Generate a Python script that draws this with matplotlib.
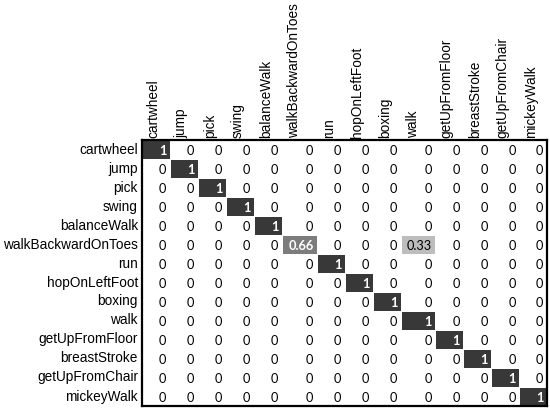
import numpy as np
import matplotlib
matplotlib.use("Agg")
import matplotlib.pyplot as plt
from matplotlib.colors import LinearSegmentedColormap

classes = ["cartwheel", "jump", "pick", "swing", "balanceWalk", "walkBackwardOnToes",
           "run", "hopOnLeftFoot", "boxing", "walk", "getUpFromFloor", "breastStroke",
           "getUpFromChair", "mickeyWalk"]

confusion = [
    [1, 0, 0, 0, 0, 0, 0, 0, 0, 0, 0, 0, 0, 0],
    [0, 1, 0, 0, 0, 0, 0, 0, 0, 0, 0, 0, 0, 0],
    [0, 0, 1, 0, 0, 0, 0, 0, 0, 0, 0, 0, 0, 0],
    [0, 0, 0, 1, 0, 0, 0, 0, 0, 0, 0, 0, 0, 0],
    [0, 0, 0, 0, 1, 0, 0, 0, 0, 0, 0, 0, 0, 0],
    [0, 0, 0, 0, 0, 0.66, 0, 0, 0, 0.33, 0, 0, 0, 0],
    [0, 0, 0, 0, 0, 0, 1, 0, 0, 0, 0, 0, 0, 0],
    [0, 0, 0, 0, 0, 0, 0, 1, 0, 0, 0, 0, 0, 0],
    [0, 0, 0, 0, 0, 0, 0, 0, 1, 0, 0, 0, 0, 0],
    [0, 0, 0, 0, 0, 0, 0, 0, 0, 1, 0, 0, 0, 0],
    [0, 0, 0, 0, 0, 0, 0, 0, 0, 0, 1, 0, 0, 0],
    [0, 0, 0, 0, 0, 0, 0, 0, 0, 0, 0, 1, 0, 0],
    [0, 0, 0, 0, 0, 0, 0, 0, 0, 0, 0, 0, 1, 0],
    [0, 0, 0, 0, 0, 0, 0, 0, 0, 0, 0, 0, 0, 1],
]

# layout: relative column widths (spreadsheet-like table)
col_widths = [1.0] * len(classes)
col_widths[classes.index("walkBackwardOnToes")] = 1.25
col_widths[classes.index("walk")] = 1.22

M = np.array(confusion, dtype=float)
n = len(classes)
xedges = np.concatenate([[0], np.cumsum(col_widths)])
yedges = np.arange(n + 1)

fig = plt.figure(figsize=(5.5, 4.13), dpi=100)
ax = fig.add_axes([142 / 550, 1 - 406 / 413, 405 / 550, 266 / 413])

cmap = LinearSegmentedColormap.from_list("g", ["#ffffff", "#383838"])
ax.pcolormesh(xedges, yedges, M, cmap=cmap, vmin=0, vmax=1,
              edgecolors="#ffffff", linewidth=0.6)
ax.set_xlim(0, xedges[-1])
ax.set_ylim(n, 0)
ax.set_xticks([])
ax.set_yticks([])
for s in ax.spines.values():
    s.set_linewidth(1.6)
    s.set_color("black")

unit_px = 405 / xedges[-1]
num_font = ["Lato", "DejaVu Sans"]
for i in range(n):
    for j in range(n):
        v = M[i, j]
        txt = f"{v:g}"
        xr = xedges[j + 1] - 3.5 / unit_px
        if v > 0.5:
            ax.text(xr, i + 0.56, txt, ha="right", va="center", color="white",
                    fontsize=9.2, fontweight="bold", family=num_font)
        else:
            ax.text(xr, i + 0.56, txt, ha="right", va="center", color="black",
                    fontsize=9.2, family=num_font)

lab_font = ["Liberation Sans", "DejaVu Sans"]
for i, name in enumerate(classes):
    ax.text(-4 / unit_px, i + 0.5, name, ha="right", va="center",
            fontsize=9.8, family=lab_font, color="black")
for j, name in enumerate(classes):
    ax.text(xedges[j] + 0.42, -0.12, name, ha="center", va="bottom",
            rotation=90, fontsize=9.8, family=lab_font, color="black",
            clip_on=False)

fig.savefig("out.png", dpi=100)
